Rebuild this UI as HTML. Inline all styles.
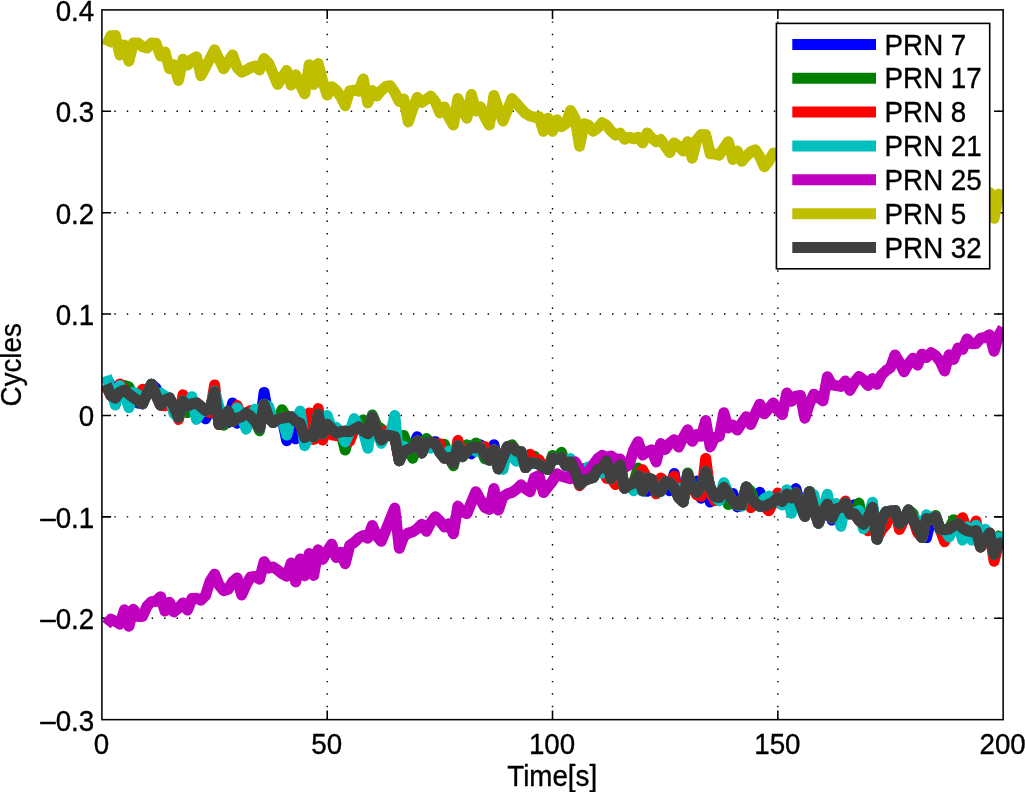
<!DOCTYPE html>
<html><head><meta charset="utf-8"><title>Cycles vs Time</title>
<style>
html,body{margin:0;padding:0;background:#fff;}
body{width:1025px;height:792px;overflow:hidden;}
svg{display:block;}
text{font-family:"Liberation Sans",sans-serif;font-size:29.2px;fill:#000;stroke:#000;stroke-width:0.35px;}
.ax{stroke:#000;stroke-width:1.55;fill:none;}
.grid{stroke:#000;stroke-width:1.45;fill:none;stroke-dasharray:1.45 10.993;}
.ln{fill:none;stroke-width:11;stroke-linejoin:round;stroke-linecap:butt;}
</style></head><body>
<svg width="1025" height="792" viewBox="0 0 1025 792">
<rect x="0" y="0" width="1025" height="792" fill="#fff"/>
<defs><clipPath id="cp"><rect x="101.9" y="9.9" width="901.25" height="709.75"/></clipPath></defs>

<g><line class="grid" x1="327.21" y1="719.65" x2="327.21" y2="9.90" stroke-dashoffset="-12.42"/>
<line class="grid" x1="552.52" y1="719.65" x2="552.52" y2="9.90" stroke-dashoffset="-12.42"/>
<line class="grid" x1="777.84" y1="719.65" x2="777.84" y2="9.90" stroke-dashoffset="-12.42"/>
<line class="grid" x1="101.90" y1="111.29" x2="1003.15" y2="111.29" stroke-dashoffset="-12.42"/>
<line class="grid" x1="101.90" y1="212.69" x2="1003.15" y2="212.69" stroke-dashoffset="-12.42"/>
<line class="grid" x1="101.90" y1="314.08" x2="1003.15" y2="314.08" stroke-dashoffset="-12.42"/>
<line class="grid" x1="101.90" y1="415.47" x2="1003.15" y2="415.47" stroke-dashoffset="-12.42"/>
<line class="grid" x1="101.90" y1="516.86" x2="1003.15" y2="516.86" stroke-dashoffset="-12.42"/>
<line class="grid" x1="101.90" y1="618.26" x2="1003.15" y2="618.26" stroke-dashoffset="-12.42"/></g>

<path class="ax" d="M327.21 719.65V710.45M327.21 9.90V19.10M552.52 719.65V710.45M552.52 9.90V19.10M777.84 719.65V710.45M777.84 9.90V19.10M101.90 111.29H111.10M1003.15 111.29H993.95M101.90 212.69H111.10M1003.15 212.69H993.95M101.90 314.08H111.10M1003.15 314.08H993.95M101.90 415.47H111.10M1003.15 415.47H993.95M101.90 516.86H111.10M1003.15 516.86H993.95M101.90 618.26H111.10M1003.15 618.26H993.95"/>
<g clip-path="url(#cp)">
<polyline class="ln" stroke="#0000ff" points="106.4,378.0 110.9,386.0 115.4,397.5 119.9,391.8 124.4,390.0 128.9,394.3 133.4,397.5 137.9,403.1 142.5,403.8 147.0,393.7 151.5,384.2 156.0,388.1 160.5,405.1 165.0,400.0 169.5,398.0 174.0,407.5 178.5,417.6 183.0,401.1 187.5,406.2 192.0,403.7 196.5,403.0 201.0,406.8 205.5,418.8 210.1,409.3 214.6,391.7 219.1,424.4 223.6,423.2 228.1,422.5 232.6,403.0 237.1,423.2 241.6,416.8 246.1,413.2 250.6,416.2 255.1,421.2 259.6,428.2 264.1,392.4 268.6,417.5 273.1,422.6 277.6,419.3 282.1,418.1 286.7,440.7 291.2,416.8 295.7,438.8 300.2,423.1 304.7,437.6 309.2,434.9 313.7,436.9 318.2,414.2 322.7,433.7 327.2,424.3 331.7,428.7 336.2,433.2 340.7,431.8 345.2,431.2 349.7,431.8 354.2,429.3 358.8,426.7 363.3,431.2 367.8,433.8 372.3,416.7 376.8,430.0 381.3,440.1 385.8,435.0 390.3,435.6 394.8,436.8 399.3,460.7 403.8,451.2 408.3,449.3 412.8,447.4 417.3,436.7 421.8,452.9 426.4,442.4 430.9,442.7 435.4,441.7 439.9,452.4 444.4,458.2 448.9,457.4 453.4,463.5 457.9,445.5 462.4,456.3 466.9,451.2 471.4,453.7 475.9,447.7 480.4,444.8 484.9,455.0 489.4,460.1 493.9,444.8 498.4,468.8 503.0,457.5 507.5,446.7 512.0,447.0 516.5,451.2 521.0,451.7 525.5,467.6 530.0,462.5 534.5,463.1 539.0,464.3 543.5,467.4 548.0,469.4 552.5,458.0 557.0,459.3 561.5,457.3 566.0,465.7 570.5,461.7 575.1,471.2 579.6,484.5 584.1,480.6 588.6,478.7 593.1,477.5 597.6,469.3 602.1,468.1 606.6,461.1 611.1,478.8 615.6,471.2 620.1,464.8 624.6,488.2 629.1,485.0 633.6,483.1 638.1,475.5 642.6,490.7 647.2,491.3 651.7,479.3 656.2,491.7 660.7,491.2 665.2,481.8 669.7,490.7 674.2,473.6 678.7,497.4 683.2,501.9 687.7,474.2 692.2,487.5 696.7,481.1 701.2,498.2 705.7,471.5 710.2,502.0 714.7,496.8 719.3,497.5 723.8,487.3 728.3,493.7 732.8,493.6 737.3,506.9 741.8,505.0 746.3,487.0 750.8,497.5 755.3,503.1 759.8,492.3 764.3,506.3 768.8,504.3 773.3,502.2 777.8,497.7 782.3,501.5 786.8,494.1 791.4,498.1 795.9,488.6 800.4,505.0 804.9,516.3 809.4,491.7 813.9,508.7 818.4,523.2 822.9,511.2 827.4,504.2 831.9,520.1 836.4,508.7 840.9,507.5 845.4,503.0 849.9,513.8 854.4,504.8 858.9,520.0 863.5,524.4 868.0,517.5 872.5,507.3 877.0,539.2 881.5,520.0 886.0,511.8 890.5,511.2 895.0,510.6 899.5,523.7 904.0,520.0 908.5,509.9 913.0,518.7 917.5,528.7 922.0,537.6 926.5,537.6 931.0,519.3 935.6,516.7 940.1,529.3 944.6,529.7 949.1,529.0 953.6,525.6 958.1,523.6 962.6,528.1 967.1,530.6 971.6,531.8 976.1,530.5 980.6,546.9 985.1,539.9 989.6,533.0 994.1,554.4 998.6,543.7 1003.1,541.8"/>
<polyline class="ln" stroke="#008000" points="106.4,384.4 110.9,395.5 115.4,398.2 119.9,391.8 124.4,385.5 128.9,386.8 133.4,397.5 137.9,400.6 142.5,403.8 147.0,393.7 151.5,384.2 156.0,395.0 160.5,405.1 165.0,400.0 169.5,398.0 174.0,407.5 178.5,417.6 183.0,401.1 187.5,412.6 192.0,403.7 196.5,403.0 201.0,406.8 205.5,410.6 210.1,409.3 214.6,391.7 219.1,424.4 223.6,425.1 228.1,411.2 232.6,421.5 237.1,418.1 241.6,416.8 246.1,413.2 250.6,416.2 255.1,421.2 259.6,430.7 264.1,404.2 268.6,417.5 273.1,422.6 277.6,419.3 282.1,409.8 286.7,417.5 291.2,416.8 295.7,421.5 300.2,423.1 304.7,437.6 309.2,434.9 313.7,436.9 318.2,414.2 322.7,433.7 327.2,424.3 331.7,428.7 336.2,433.2 340.7,431.8 345.2,450.1 349.7,431.8 354.2,429.3 358.8,426.7 363.3,420.0 367.8,433.8 372.3,414.9 376.8,425.6 381.3,429.0 385.8,435.0 390.3,435.6 394.8,436.8 399.3,460.7 403.8,435.5 408.3,449.3 412.8,458.2 417.3,441.1 421.8,452.9 426.4,438.6 430.9,442.7 435.4,443.7 439.9,452.4 444.4,444.2 448.9,457.4 453.4,465.7 457.9,445.5 462.4,456.9 466.9,444.8 471.4,447.3 475.9,443.0 480.4,447.5 484.9,458.7 489.4,460.1 493.9,449.8 498.4,468.8 503.0,457.5 507.5,446.7 512.0,444.8 516.5,451.2 521.0,451.7 525.5,467.6 530.0,462.5 534.5,456.2 539.0,464.3 543.5,467.4 548.0,469.4 552.5,455.5 557.0,459.3 561.5,452.3 566.0,465.7 570.5,461.7 575.1,471.2 579.6,484.5 584.1,468.6 588.6,478.7 593.1,477.5 597.6,469.3 602.1,468.1 606.6,461.1 611.1,478.8 615.6,471.2 620.1,464.8 624.6,488.2 629.1,485.0 633.6,483.1 638.1,468.1 642.6,490.7 647.2,478.1 651.7,479.3 656.2,491.7 660.7,491.2 665.2,481.8 669.7,482.5 674.2,487.4 678.7,497.4 683.2,501.9 687.7,473.0 692.2,487.5 696.7,492.6 701.2,486.2 705.7,471.5 710.2,487.5 714.7,496.8 719.3,497.5 723.8,487.3 728.3,504.5 732.8,501.2 737.3,505.0 741.8,505.0 746.3,487.0 750.8,491.2 755.3,503.1 759.8,506.3 764.3,506.3 768.8,504.3 773.3,502.2 777.8,497.7 782.3,501.5 786.8,494.1 791.4,498.1 795.9,492.8 800.4,505.0 804.9,516.3 809.4,491.7 813.9,508.7 818.4,523.2 822.9,511.2 827.4,504.2 831.9,518.2 836.4,508.7 840.9,507.5 845.4,503.0 849.9,513.8 854.4,513.7 858.9,503.0 863.5,524.4 868.0,517.5 872.5,507.3 877.0,539.2 881.5,520.0 886.0,511.8 890.5,511.2 895.0,510.6 899.5,523.7 904.0,520.0 908.5,509.9 913.0,513.7 917.5,528.7 922.0,537.6 926.5,518.6 931.0,519.3 935.6,515.5 940.1,529.3 944.6,529.7 949.1,529.0 953.6,519.8 958.1,523.6 962.6,528.1 967.1,530.6 971.6,531.8 976.1,530.5 980.6,546.9 985.1,539.9 989.6,533.0 994.1,554.4 998.6,536.1 1003.1,541.8"/>
<polyline class="ln" stroke="#ff0000" points="106.4,386.8 110.9,395.5 115.4,398.2 119.9,384.0 124.4,390.0 128.9,394.3 133.4,397.5 137.9,400.6 142.5,389.2 147.0,393.7 151.5,384.2 156.0,395.0 160.5,405.1 165.0,405.7 169.5,398.0 174.0,407.5 178.5,419.4 183.0,394.8 187.5,406.2 192.0,403.7 196.5,403.0 201.0,406.8 205.5,410.6 210.1,412.6 214.6,384.9 219.1,424.4 223.6,423.2 228.1,411.2 232.6,421.5 237.1,405.5 241.6,416.8 246.1,413.2 250.6,410.6 255.1,421.2 259.6,428.2 264.1,404.2 268.6,417.5 273.1,422.6 277.6,419.3 282.1,418.1 286.7,417.5 291.2,416.8 295.7,421.5 300.2,423.1 304.7,437.6 309.2,413.0 313.7,439.4 318.2,408.6 322.7,440.1 327.2,424.3 331.7,434.9 336.2,435.7 340.7,431.8 345.2,431.2 349.7,441.2 354.2,429.3 358.8,426.7 363.3,431.2 367.8,433.8 372.3,416.7 376.8,430.0 381.3,440.1 385.8,431.2 390.3,435.6 394.8,436.8 399.3,460.7 403.8,451.2 408.3,449.3 412.8,447.4 417.3,441.1 421.8,452.9 426.4,442.4 430.9,442.7 435.4,443.7 439.9,443.7 444.4,458.2 448.9,457.4 453.4,463.5 457.9,440.5 462.4,456.3 466.9,451.2 471.4,447.3 475.9,447.7 480.4,447.5 484.9,446.7 489.4,460.1 493.9,449.8 498.4,468.8 503.0,457.5 507.5,446.7 512.0,447.0 516.5,451.2 521.0,451.7 525.5,467.6 530.0,454.2 534.5,463.1 539.0,459.8 543.5,467.4 548.0,469.4 552.5,458.0 557.0,459.3 561.5,457.3 566.0,465.7 570.5,461.7 575.1,471.2 579.6,485.7 584.1,480.6 588.6,478.8 593.1,477.5 597.6,469.3 602.1,468.1 606.6,478.2 611.1,478.8 615.6,484.5 620.1,464.8 624.6,488.2 629.1,485.0 633.6,483.1 638.1,475.5 642.6,469.8 647.2,478.1 651.7,479.3 656.2,493.8 660.7,478.0 665.2,481.8 669.7,482.5 674.2,476.1 678.7,497.4 683.2,501.9 687.7,474.2 692.2,487.5 696.7,495.0 701.2,496.2 705.7,458.5 710.2,492.5 714.7,500.7 719.3,497.5 723.8,487.3 728.3,493.7 732.8,501.2 737.3,505.0 741.8,505.0 746.3,487.0 750.8,507.6 755.3,503.1 759.8,506.3 764.3,506.3 768.8,510.7 773.3,502.2 777.8,493.0 782.3,501.5 786.8,494.1 791.4,498.1 795.9,492.8 800.4,505.0 804.9,516.3 809.4,491.7 813.9,508.7 818.4,523.2 822.9,511.2 827.4,504.2 831.9,518.2 836.4,508.7 840.9,507.5 845.4,501.1 849.9,513.8 854.4,513.7 858.9,520.0 863.5,524.4 868.0,530.7 872.5,507.3 877.0,539.2 881.5,529.9 886.0,524.9 890.5,511.2 895.0,510.6 899.5,529.5 904.0,520.0 908.5,509.9 913.0,518.7 917.5,532.4 922.0,537.6 926.5,518.6 931.0,519.3 935.6,516.7 940.1,529.3 944.6,541.7 949.1,529.0 953.6,525.6 958.1,523.6 962.6,517.7 967.1,530.6 971.6,531.8 976.1,521.1 980.6,546.9 985.1,539.9 989.6,533.0 994.1,561.2 998.6,543.7 1003.1,541.8"/>
<polyline class="ln" stroke="#00bfbf" points="106.4,375.9 110.9,390.0 115.4,405.0 119.9,385.6 124.4,393.7 128.9,407.6 133.4,392.2 137.9,395.0 142.5,403.8 147.0,393.7 151.5,384.2 156.0,395.0 160.5,393.1 165.0,396.2 169.5,398.0 174.0,413.7 178.5,417.6 183.0,401.1 187.5,406.2 192.0,396.7 196.5,419.4 201.0,412.4 205.5,410.6 210.1,409.3 214.6,391.2 219.1,407.5 223.6,423.2 228.1,411.2 232.6,421.5 237.1,408.0 241.6,416.8 246.1,429.2 250.6,416.2 255.1,409.2 259.6,428.2 264.1,404.2 268.6,406.2 273.1,422.6 277.6,419.3 282.1,418.1 286.7,435.1 291.2,416.8 295.7,421.5 300.2,411.1 304.7,445.7 309.2,434.9 313.7,436.9 318.2,414.2 322.7,433.7 327.2,415.5 331.7,428.7 336.2,427.4 340.7,431.8 345.2,441.9 349.7,431.8 354.2,418.6 358.8,426.7 363.3,431.2 367.8,448.2 372.3,416.7 376.8,430.0 381.3,443.2 385.8,435.0 390.3,435.6 394.8,415.5 399.3,460.7 403.8,446.2 408.3,449.3 412.8,447.4 417.3,441.1 421.8,452.9 426.4,442.4 430.9,448.2 435.4,443.7 439.9,452.4 444.4,458.2 448.9,451.1 453.4,463.5 457.9,445.5 462.4,456.3 466.9,451.2 471.4,447.3 475.9,451.2 480.4,447.5 484.9,455.0 489.4,460.1 493.9,449.8 498.4,468.8 503.0,469.4 507.5,446.7 512.0,456.2 516.5,461.2 521.0,451.7 525.5,467.6 530.0,462.5 534.5,463.1 539.0,464.3 543.5,467.4 548.0,469.4 552.5,458.0 557.0,459.3 561.5,457.3 566.0,465.7 570.5,458.6 575.1,471.2 579.6,484.5 584.1,480.6 588.6,466.7 593.1,477.5 597.6,469.3 602.1,473.2 606.6,461.1 611.1,478.8 615.6,471.2 620.1,464.8 624.6,488.2 629.1,485.0 633.6,490.7 638.1,475.5 642.6,490.7 647.2,478.1 651.7,479.3 656.2,491.7 660.7,491.2 665.2,481.8 669.7,482.5 674.2,487.4 678.7,488.7 683.2,501.9 687.7,474.2 692.2,487.5 696.7,492.6 701.2,486.2 705.7,471.5 710.2,487.5 714.7,496.8 719.3,500.7 723.8,482.7 728.3,493.7 732.8,501.2 737.3,505.0 741.8,506.3 746.3,487.0 750.8,497.5 755.3,503.1 759.8,506.3 764.3,498.7 768.8,496.2 773.3,502.2 777.8,497.7 782.3,505.1 786.8,489.8 791.4,513.2 795.9,492.8 800.4,505.0 804.9,516.3 809.4,491.7 813.9,495.0 818.4,523.2 822.9,511.2 827.4,494.2 831.9,518.2 836.4,503.6 840.9,526.3 845.4,503.0 849.9,513.8 854.4,513.7 858.9,510.5 863.5,528.8 868.0,517.5 872.5,502.3 877.0,539.2 881.5,520.0 886.0,511.8 890.5,511.2 895.0,510.6 899.5,523.7 904.0,520.0 908.5,509.9 913.0,518.7 917.5,520.0 922.0,537.6 926.5,514.8 931.0,519.3 935.6,516.7 940.1,529.3 944.6,529.7 949.1,536.9 953.6,525.6 958.1,523.6 962.6,540.1 967.1,526.7 971.6,540.1 976.1,525.2 980.6,535.0 985.1,529.2 989.6,535.0 994.1,554.4 998.6,537.4 1003.1,537.9"/>
<polyline class="ln" stroke="#bf00bf" points="106.4,624.9 110.9,619.2 115.4,621.4 119.9,624.2 124.4,609.8 128.9,626.3 133.4,609.2 137.9,616.4 142.5,616.4 147.0,606.2 151.5,601.7 156.0,601.2 160.5,596.7 165.0,611.0 169.5,602.3 174.0,611.9 178.5,608.1 183.0,603.0 187.5,610.1 192.0,598.6 196.5,598.2 201.0,600.1 205.5,595.6 210.1,581.2 214.6,574.2 219.1,585.0 223.6,590.7 228.1,589.3 232.6,581.8 237.1,577.9 241.6,594.9 246.1,584.9 250.6,576.9 255.1,576.4 259.6,579.2 264.1,561.7 268.6,568.1 273.1,567.0 277.6,570.0 282.1,573.7 286.7,576.2 291.2,563.0 295.7,581.9 300.2,559.0 304.7,575.7 309.2,553.6 313.7,575.4 318.2,549.8 322.7,559.2 327.2,551.2 331.7,544.2 336.2,557.6 340.7,552.3 345.2,563.8 349.7,545.4 354.2,542.4 358.8,538.1 363.3,535.5 367.8,538.2 372.3,525.5 376.8,536.2 381.3,541.3 385.8,530.2 390.3,519.1 394.8,508.0 399.3,548.2 403.8,536.2 408.3,533.1 412.8,531.8 417.3,528.7 421.8,524.2 426.4,531.3 430.9,522.5 435.4,516.7 439.9,521.2 444.4,527.0 448.9,523.7 453.4,533.8 457.9,506.1 462.4,511.8 466.9,513.7 471.4,502.4 475.9,491.7 480.4,499.9 484.9,507.4 489.4,509.4 493.9,488.6 498.4,510.1 503.0,496.8 507.5,493.7 512.0,492.4 516.5,489.3 521.0,484.8 525.5,488.7 530.0,491.8 534.5,477.5 539.0,475.6 543.5,492.6 548.0,486.8 552.5,481.2 557.0,473.7 561.5,476.2 566.0,477.5 570.5,478.8 575.1,461.7 579.6,469.9 584.1,473.7 588.6,471.8 593.1,464.9 597.6,458.7 602.1,455.4 606.6,457.4 611.1,456.1 615.6,459.3 620.1,458.9 624.6,467.4 629.1,464.9 633.6,450.0 638.1,441.7 642.6,455.1 647.2,451.8 651.7,449.8 656.2,461.9 660.7,443.6 665.2,449.5 669.7,443.1 674.2,439.8 678.7,447.0 683.2,437.5 687.7,429.8 692.2,441.3 696.7,434.7 701.2,436.2 705.7,420.5 710.2,446.9 714.7,437.4 719.3,436.3 723.8,412.7 728.3,427.9 732.8,425.2 737.3,430.1 741.8,423.1 746.3,416.7 750.8,424.5 755.3,413.7 759.8,404.2 764.3,413.8 768.8,408.7 773.3,403.0 777.8,410.0 782.3,414.5 786.8,393.0 791.4,401.3 795.9,396.2 800.4,395.4 804.9,418.2 809.4,403.7 813.9,394.2 818.4,397.4 822.9,400.9 827.4,376.7 831.9,384.9 836.4,385.6 840.9,386.4 845.4,381.1 849.9,390.4 854.4,382.4 858.9,376.5 863.5,380.0 868.0,385.4 872.5,378.6 877.0,384.2 881.5,375.0 886.0,370.6 890.5,367.5 895.0,354.9 899.5,362.4 904.0,371.7 908.5,363.7 913.0,358.2 917.5,365.1 922.0,354.2 926.5,357.6 931.0,352.7 935.6,355.6 940.1,361.2 944.6,370.9 949.1,354.8 953.6,359.4 958.1,348.0 962.6,349.2 967.1,339.0 971.6,343.7 976.1,343.5 980.6,338.2 985.1,337.5 989.6,334.8 994.1,351.2 998.6,335.8 1003.1,327.8"/>
<polyline class="ln" stroke="#bfbf00" points="106.4,45.7 110.9,35.7 115.4,35.5 119.9,55.1 124.4,45.0 128.9,61.3 133.4,43.0 137.9,43.0 142.5,46.8 147.0,48.0 151.5,43.0 156.0,43.2 160.5,56.0 165.0,52.0 169.5,68.8 174.0,64.8 178.5,80.4 183.0,59.2 187.5,65.1 192.0,59.3 196.5,56.7 201.0,75.7 205.5,67.1 210.1,58.5 214.6,49.8 219.1,59.3 223.6,68.8 228.1,61.8 232.6,54.9 237.1,67.5 241.6,72.2 246.1,70.2 250.6,67.5 255.1,66.1 259.6,70.1 264.1,58.6 268.6,63.1 273.1,73.7 277.6,84.4 282.1,77.5 286.7,70.5 291.2,85.1 295.7,74.8 300.2,84.3 304.7,93.8 309.2,64.8 313.7,84.4 318.2,63.6 322.7,81.2 327.2,95.1 331.7,86.7 336.2,90.2 340.7,96.5 345.2,105.7 349.7,91.0 354.2,90.2 358.8,91.2 363.3,79.0 367.8,102.9 372.3,90.5 376.8,96.0 381.3,90.6 385.8,86.5 390.3,85.8 394.8,92.5 399.3,101.4 403.8,99.0 408.3,121.9 412.8,108.7 417.3,97.3 421.8,102.4 426.4,99.3 430.9,96.1 435.4,101.8 439.9,112.9 444.4,106.9 448.9,117.4 453.4,125.1 457.9,98.6 462.4,110.0 466.9,118.2 471.4,94.5 475.9,111.0 480.4,106.7 484.9,117.5 489.4,125.1 493.9,95.5 498.4,108.7 503.0,121.0 507.5,110.0 512.0,98.6 516.5,103.5 521.0,108.7 525.5,113.3 530.0,116.0 534.5,117.2 539.0,116.7 543.5,131.3 548.0,118.2 552.5,131.3 557.0,119.8 561.5,126.7 566.0,123.7 570.5,110.5 575.1,118.7 579.6,146.3 584.1,123.7 588.6,125.2 593.1,131.3 597.6,128.1 602.1,122.7 606.6,125.3 611.1,131.2 615.6,135.1 620.1,133.2 624.6,139.2 629.1,137.3 633.6,138.8 638.1,137.3 642.6,142.9 647.2,133.0 651.7,138.1 656.2,141.9 660.7,139.5 665.2,146.2 669.7,152.6 674.2,142.9 678.7,146.2 683.2,151.1 687.7,141.7 692.2,158.2 696.7,140.0 701.2,134.5 705.7,134.8 710.2,153.8 714.7,153.9 719.3,155.1 723.8,148.1 728.3,141.7 732.8,159.4 737.3,151.1 741.8,161.3 746.3,156.2 750.8,151.8 755.3,149.8 759.8,156.8 764.3,166.7 768.8,161.2 773.3,153.1 777.8,153.9 782.3,154.7 786.8,155.5 791.4,156.4 795.9,157.2 800.4,158.0 804.9,158.9 809.4,159.7 813.9,160.5 818.4,161.3 822.9,162.2 827.4,163.0 831.9,163.8 836.4,164.6 840.9,165.5 845.4,166.3 849.9,167.1 854.4,167.9 858.9,168.8 863.5,169.6 868.0,170.4 872.5,171.2 877.0,172.1 881.5,172.9 886.0,173.7 890.5,174.5 895.0,175.4 899.5,176.2 904.0,177.0 908.5,177.8 913.0,178.7 917.5,179.5 922.0,180.3 926.5,181.1 931.0,182.0 935.6,182.8 940.1,183.6 944.6,184.4 949.1,185.3 953.6,186.1 958.1,186.9 962.6,187.7 967.1,188.6 971.6,189.4 976.1,190.2 980.6,191.0 985.1,191.9 989.6,192.7 994.1,218.3 998.6,194.2 1003.1,196.3"/>
<polyline class="ln" stroke="#404040" points="106.4,384.4 110.9,395.5 115.4,398.2 119.9,391.8 124.4,390.0 128.9,394.3 133.4,397.5 137.9,400.6 142.5,403.8 147.0,393.7 151.5,384.2 156.0,395.0 160.5,405.1 165.0,400.0 169.5,398.0 174.0,407.5 178.5,417.6 183.0,401.1 187.5,406.2 192.0,403.7 196.5,403.0 201.0,406.8 205.5,410.6 210.1,409.3 214.6,391.7 219.1,424.4 223.6,423.2 228.1,411.2 232.6,421.5 237.1,418.1 241.6,416.8 246.1,413.2 250.6,416.2 255.1,421.2 259.6,428.2 264.1,404.2 268.6,417.5 273.1,422.6 277.6,419.3 282.1,418.1 286.7,417.5 291.2,416.8 295.7,421.5 300.2,423.1 304.7,437.6 309.2,434.9 313.7,436.9 318.2,414.2 322.7,433.7 327.2,424.3 331.7,428.7 336.2,433.2 340.7,431.8 345.2,431.2 349.7,431.8 354.2,429.3 358.8,426.7 363.3,431.2 367.8,433.8 372.3,416.7 376.8,430.0 381.3,440.1 385.8,435.0 390.3,435.6 394.8,436.8 399.3,460.7 403.8,451.2 408.3,449.3 412.8,447.4 417.3,441.1 421.8,452.9 426.4,442.4 430.9,442.7 435.4,443.7 439.9,452.4 444.4,458.2 448.9,457.4 453.4,463.5 457.9,445.5 462.4,456.3 466.9,451.2 471.4,447.3 475.9,447.7 480.4,447.5 484.9,455.0 489.4,460.1 493.9,449.8 498.4,468.8 503.0,457.5 507.5,446.7 512.0,447.0 516.5,451.2 521.0,451.7 525.5,467.6 530.0,462.5 534.5,463.1 539.0,464.3 543.5,467.4 548.0,469.4 552.5,458.0 557.0,459.3 561.5,457.3 566.0,465.7 570.5,461.7 575.1,471.2 579.6,484.5 584.1,480.6 588.6,478.7 593.1,477.5 597.6,469.3 602.1,468.1 606.6,461.1 611.1,478.8 615.6,471.2 620.1,464.8 624.6,488.2 629.1,485.0 633.6,483.1 638.1,475.5 642.6,490.7 647.2,478.1 651.7,479.3 656.2,491.7 660.7,491.2 665.2,481.8 669.7,482.5 674.2,487.4 678.7,497.4 683.2,501.9 687.7,474.2 692.2,487.5 696.7,492.6 701.2,486.2 705.7,471.5 710.2,487.5 714.7,496.8 719.3,497.5 723.8,487.3 728.3,493.7 732.8,501.2 737.3,505.0 741.8,505.0 746.3,487.0 750.8,497.5 755.3,503.1 759.8,506.3 764.3,506.3 768.8,504.3 773.3,502.2 777.8,497.7 782.3,501.5 786.8,494.1 791.4,498.1 795.9,492.8 800.4,505.0 804.9,516.3 809.4,491.7 813.9,508.7 818.4,523.2 822.9,511.2 827.4,504.2 831.9,518.2 836.4,508.7 840.9,507.5 845.4,503.0 849.9,513.8 854.4,513.7 858.9,520.0 863.5,524.4 868.0,517.5 872.5,507.3 877.0,539.2 881.5,520.0 886.0,511.8 890.5,511.2 895.0,510.6 899.5,523.7 904.0,520.0 908.5,509.9 913.0,518.7 917.5,528.7 922.0,537.6 926.5,518.6 931.0,519.3 935.6,516.7 940.1,529.3 944.6,529.7 949.1,529.0 953.6,525.6 958.1,523.6 962.6,528.1 967.1,530.6 971.6,531.8 976.1,530.5 980.6,546.9 985.1,539.9 989.6,533.0 994.1,554.4 998.6,543.7 1003.1,541.8"/>
</g>

<rect class="ax" x="101.9" y="9.9" width="901.25" height="709.75"/>

<text transform="translate(101.40 753.70) scale(0.9503 1)" text-anchor="middle">0</text>
<text transform="translate(326.71 753.70) scale(0.9503 1)" text-anchor="middle">50</text>
<text transform="translate(552.02 753.70) scale(0.9503 1)" text-anchor="middle">100</text>
<text transform="translate(777.34 753.70) scale(0.9503 1)" text-anchor="middle">150</text>
<text transform="translate(1002.65 753.70) scale(0.9503 1)" text-anchor="middle">200</text>
<text transform="translate(94.20 20.80) scale(0.9503 1)" text-anchor="end">0.4</text>
<text transform="translate(94.20 122.19) scale(0.9503 1)" text-anchor="end">0.3</text>
<text transform="translate(94.20 223.59) scale(0.9503 1)" text-anchor="end">0.2</text>
<text transform="translate(94.20 324.98) scale(0.9503 1)" text-anchor="end">0.1</text>
<text transform="translate(94.20 426.37) scale(0.9503 1)" text-anchor="end">0</text>
<text transform="translate(94.20 527.76) scale(0.9503 1)" text-anchor="end">–0.1</text>
<text transform="translate(94.20 629.16) scale(0.9503 1)" text-anchor="end">–0.2</text>
<text transform="translate(94.20 730.55) scale(0.9503 1)" text-anchor="end">–0.3</text>
<text transform="translate(552.20 785.70) scale(0.9503 1)" text-anchor="middle">Time[s]</text>
<text transform="translate(20.80 364.80) rotate(-90) scale(0.9503 1)" text-anchor="middle">Cycles</text>
<rect x="776.4" y="23.4" width="213.30" height="245.40" fill="#fff" stroke="#000" stroke-width="1.6"/>
<line x1="792.3" y1="44.40" x2="876" y2="44.40" stroke="#0000ff" stroke-width="11"/>
<text transform="translate(884.60 54.50) scale(0.9503 1)">PRN 7</text>
<line x1="792.3" y1="78.25" x2="876" y2="78.25" stroke="#008000" stroke-width="11"/>
<text transform="translate(884.60 88.35) scale(0.9503 1)">PRN 17</text>
<line x1="792.3" y1="112.10" x2="876" y2="112.10" stroke="#ff0000" stroke-width="11"/>
<text transform="translate(884.60 122.20) scale(0.9503 1)">PRN 8</text>
<line x1="792.3" y1="145.95" x2="876" y2="145.95" stroke="#00bfbf" stroke-width="11"/>
<text transform="translate(884.60 156.05) scale(0.9503 1)">PRN 21</text>
<line x1="792.3" y1="179.80" x2="876" y2="179.80" stroke="#bf00bf" stroke-width="11"/>
<text transform="translate(884.60 189.90) scale(0.9503 1)">PRN 25</text>
<line x1="792.3" y1="213.65" x2="876" y2="213.65" stroke="#bfbf00" stroke-width="11"/>
<text transform="translate(884.60 223.75) scale(0.9503 1)">PRN 5</text>
<line x1="792.3" y1="247.50" x2="876" y2="247.50" stroke="#404040" stroke-width="11"/>
<text transform="translate(884.60 257.60) scale(0.9503 1)">PRN 32</text>
</svg></body></html>
